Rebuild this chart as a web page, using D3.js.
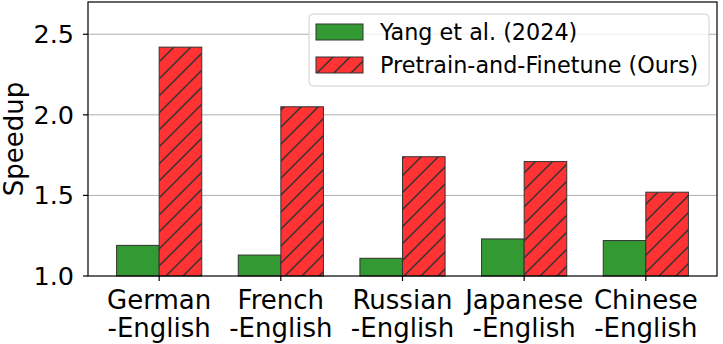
<!DOCTYPE html>
<html lang="en">
<head>
    <meta charset="UTF-8">
    <title>Speedup by language pair</title>
    <script src="https://d3js.org/d3.v7.min.js"></script>
    <style>
        body { margin: 0; background: #fff; }
        svg { display: block; font-family: "DejaVu Sans", sans-serif; }
    </style>
</head>
<body>
    <svg width="723" height="344"></svg>
    <script>
// chart data
const pairs = [["German", "-English"], ["French", "-English"], ["Russian", "-English"],
               ["Japanese", "-English"], ["Chinese", "-English"]];
const baseline = [1.19, 1.13, 1.11, 1.23, 1.22];   // Yang et al. (2024)
const ours = [2.42, 2.05, 1.74, 1.71, 1.52];       // Pretrain-and-Finetune (Ours)
const yTicks = [1.0, 1.5, 2.0, 2.5];
const seriesNames = ["Yang et al. (2024)", "Pretrain-and-Finetune (Ours)"];

const svg = d3.select("svg");
const plotL = 88, plotR = 717, plotT = 2, plotB = 276;
const barW = 0.35;

const x = d3.scaleLinear().domain([-0.585, pairs.length - 1 + 0.585]).range([plotL, plotR]);
const y = d3.scaleLinear().domain([1.0, 2.7]).range([plotB, plotT]);

// hatch pattern for our bars
const defs = svg.append("defs");
const pat = defs.append("pattern")
    .attr("id", "hatch")
    .attr("patternUnits", "userSpaceOnUse")
    .attr("width", 17).attr("height", 17);
pat.append("rect").attr("width", 17).attr("height", 17).attr("fill", "#ff3333");
pat.append("path")
    .attr("d", "M0,17 L17,0 M-4,4 L4,-4 M13,21 L21,13")
    .attr("stroke", "#333").attr("stroke-width", 1.5).attr("fill", "none");

// grid
svg.append("g")
    .selectAll("line")
    .data(yTicks.slice(1))
    .enter().append("line")
    .attr("x1", plotL).attr("x2", plotR)
    .attr("y1", d => y(d)).attr("y2", d => y(d))
    .attr("stroke", "#b0b0b0").attr("stroke-width", 1);

// bars
svg.append("g")
    .selectAll("rect")
    .data(baseline)
    .enter().append("rect")
    .attr("x", (d, i) => x(i - barW))
    .attr("width", (d, i) => x(i) - x(i - barW))
    .attr("y", d => y(d))
    .attr("height", d => y(1.0) - y(d))
    .attr("fill", "#339933")
    .attr("stroke", "#333").attr("stroke-width", 1);

svg.append("g")
    .selectAll("rect")
    .data(ours)
    .enter().append("rect")
    .attr("x", (d, i) => x(i))
    .attr("width", (d, i) => x(i + barW) - x(i))
    .attr("y", d => y(d))
    .attr("height", d => y(1.0) - y(d))
    .attr("fill", "url(#hatch)")
    .attr("stroke", "#333").attr("stroke-width", 1);

// axes frame
svg.append("rect")
    .attr("x", plotL).attr("y", plotT)
    .attr("width", plotR - plotL).attr("height", plotB - plotT)
    .attr("fill", "none").attr("stroke", "#000").attr("stroke-width", 1.2);

// y ticks
const yAxis = svg.append("g");
yAxis.selectAll("line")
    .data(yTicks)
    .enter().append("line")
    .attr("x1", plotL - 5).attr("x2", plotL)
    .attr("y1", d => y(d)).attr("y2", d => y(d))
    .attr("stroke", "#000").attr("stroke-width", 1.2);
yAxis.selectAll("text")
    .data(yTicks)
    .enter().append("text")
    .attr("x", plotL - 14)
    .attr("y", d => y(d) + 9)
    .attr("text-anchor", "end")
    .style("font-size", "25.5px")
    .text(d => d.toFixed(1));

svg.append("text")
    .attr("transform", "translate(23," + ((plotT + plotB) / 2) + ") rotate(-90)")
    .attr("text-anchor", "middle")
    .style("font-size", "26px")
    .text("Speedup");

// x ticks
const xAxis = svg.append("g");
xAxis.selectAll("line")
    .data(pairs)
    .enter().append("line")
    .attr("x1", (d, i) => x(i)).attr("x2", (d, i) => x(i))
    .attr("y1", plotB).attr("y2", plotB + 5)
    .attr("stroke", "#000").attr("stroke-width", 1.2);
const xl = xAxis.selectAll("text")
    .data(pairs)
    .enter().append("text")
    .attr("text-anchor", "middle")
    .style("font-size", "26px");
xl.append("tspan").attr("x", (d, i) => x(i)).attr("y", 309).text(d => d[0]);
xl.append("tspan").attr("x", (d, i) => x(i)).attr("y", 337).text(d => d[1]);

// legend
const legend = svg.append("g").attr("transform", "translate(309,14)");
legend.append("rect")
    .attr("width", 400).attr("height", 72).attr("rx", 4)
    .attr("fill", "#fff").attr("fill-opacity", 0.8)
    .attr("stroke", "#d0d0d0").attr("stroke-width", 1);
const legendFill = ["#339933", "url(#hatch)"];
const items = legend.selectAll("g.item")
    .data(seriesNames)
    .enter().append("g").attr("class", "item")
    .attr("transform", (d, i) => "translate(0," + (i * 33) + ")");
items.append("rect")
    .attr("x", 7).attr("y", 10)
    .attr("width", 47).attr("height", 16)
    .attr("fill", (d, i) => legendFill[i])
    .attr("stroke", "#333").attr("stroke-width", 1);
items.append("text")
    .attr("x", 71).attr("y", 25.5)
    .style("font-size", "22.3px")
    .text(d => d);
    </script>
</body>
</html>
